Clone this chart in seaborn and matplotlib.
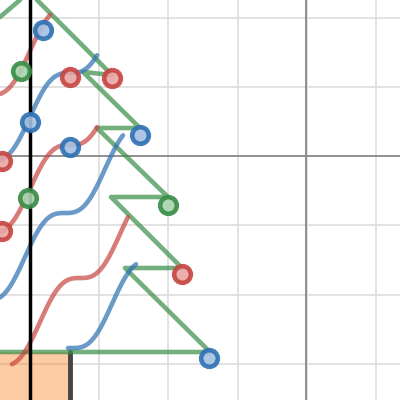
import numpy as np
import pandas as pd
import seaborn as sns
import matplotlib.pyplot as plt

# everything in pixel units (x right, y down)
tree_x = [0, 20, None, 37, 112, 83, 83, 140, 97, 97, 168, 111, 111, 182, 125, 125, 210, 0]
tree_y = [17, 0, None, 0, 75, 72, 72, 128, 128, 128, 197, 197, 197, 268, 268, 268, 352, 352]

# garlands: colour, x start, x end, x of flat spot, y at flat spot
garland_col = ['red', 'blue', 'red', 'blue', 'red', 'blue']
garland_x0 = [0, 0, 0, 0, 12, 68]
garland_x1 = [50, 97, 97, 123, 128, 136]
garland_xf = [-10, 70, 70, 65, 80, 72]
garland_yf = [95, 73, 145, 213, 278, 348]

orn_x = [43, 21, 70, 112, 30, 70, 140, 2, 28, 168, 2, 182, 209]
orn_y = [30, 71, 77, 78, 122, 147, 135, 161, 198, 205, 231, 274, 358]
orn_col = ['blue', 'green', 'red', 'red', 'blue', 'blue', 'blue', 'red', 'green', 'green', 'red', 'red', 'blue']

trunk_x = [0, 70]
trunk_y = [352, 400]

cols = {'red': '#c74440', 'blue': '#2d70b3', 'green': '#388c46'}
light = {'red': '#e8a5a3', 'blue': '#a3c0e0', 'green': '#a8d4ae'}

sns.set_style('white')
fig = plt.figure(figsize=(4, 4), dpi=100)
ax = fig.add_axes([0, 0, 1, 1])
ax.set_xlim(0, 400)
ax.set_ylim(400, 0)
ax.axis('off')

for gx in np.arange(30 + 69.2, 400, 69.2):
    ax.axvline(gx, color='#dddddd', lw=1.2, zorder=0)
for gy in [18, 87, 225, 295, 364]:
    ax.axhline(gy, color='#dddddd', lw=1.2, zorder=0)
ax.axhline(156, color='#888888', lw=1.3, zorder=0)
ax.axvline(306, color='#888888', lw=1.3, zorder=0)

ax.fill_between(trunk_x, trunk_y[0], trunk_y[1], color='#fa7e19', alpha=0.4, lw=0, zorder=1)
ax.plot([70, 70], trunk_y, color='#444444', lw=3.5, zorder=2)

ax.plot([v if v is not None else np.nan for v in tree_x],
        [v if v is not None else np.nan for v in tree_y],
        color=cols['green'], lw=3.3, alpha=0.7, zorder=3, solid_capstyle='round')

P, k = 80, 1.1
for c, x0, x1, xf, yf in zip(garland_col, garland_x0, garland_x1, garland_xf, garland_yf):
    xs = np.linspace(x0, x1, 120)
    d = xs - xf
    ys = yf - k * (d - P / (2 * np.pi) * np.sin(2 * np.pi * d / P))
    df = pd.DataFrame({'x': xs, 'y': ys})
    sns.lineplot(data=df, x='x', y='y', ax=ax, color=cols[c], lw=3.3, alpha=0.7,
                 sort=False, zorder=3)

ax.axvline(30, color='black', lw=2.5, zorder=4)

for x, y, c in zip(orn_x, orn_y, orn_col):
    ax.plot(x, y, 'o', ms=12, mfc=light[c], mec=cols[c], mew=3.3, alpha=0.9, zorder=5)

ax.set_xlim(0, 400)
ax.set_ylim(400, 0)
fig.savefig('out.png', dpi=100)
